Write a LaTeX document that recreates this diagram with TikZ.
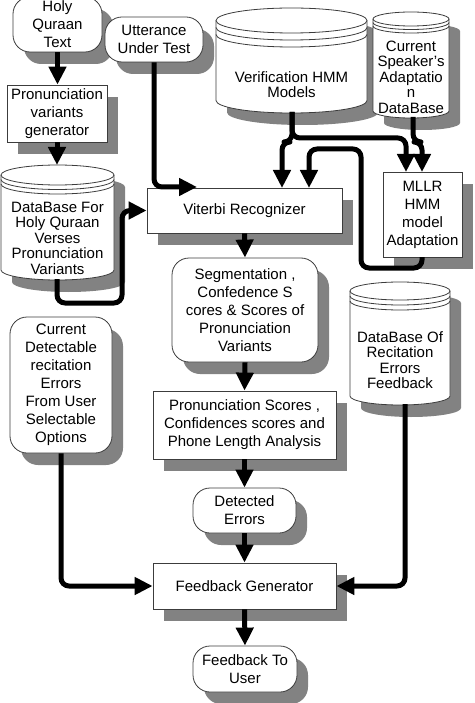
\documentclass[tikz,border=0pt]{standalone}
\usepackage{fontspec}
\setmainfont{Liberation Sans}
\usetikzlibrary{arrows.meta,shadows,calc}
\definecolor{shadowc}{RGB}{130,130,130}
\definecolor{edgec}{RGB}{60,60,60}
\tikzset{
  base/.style={draw=edgec, line width=0.8pt, fill=white, align=center, inner sep=0pt,
    font=\fontsize{15}{18}\selectfont,
    drop shadow={shadow xshift=11pt, shadow yshift=-12pt, fill=shadowc, opacity=1, draw=none}},
  sbox/.style={base, rectangle},
  rbox/.style={base, rectangle, rounded corners=17pt},
  cyltext/.style={align=center, inner sep=0pt, font=\fontsize{15}{15.5}\selectfont},
  cylline/.style={draw=edgec, line width=0.8pt},
  conn/.style={line width=5pt, line join=round, rounded corners=8pt, -{Triangle[length=18pt,width=17pt]}},
}
\newcommand{\mycyl}[6]{%
  \pgfmathsetmacro{\cL}{#1}\pgfmathsetmacro{\cR}{#2}%
  \pgfmathsetmacro{\cRX}{(#2-#1)/2}%
  \pgfmathsetmacro{\cYT}{-(#3+#5)}\pgfmathsetmacro{\cYB}{-(#4-#5)}%
  \fill[shadowc, shift={(11pt,-12pt)}] (\cL,\cYT) -- (\cL,\cYB)
     arc[start angle=180,end angle=360,x radius=\cRX,y radius=#5] -- (\cR,\cYT)
     arc[start angle=0,end angle=180,x radius=\cRX,y radius=#5] -- cycle;
  \draw[cylline, fill=white] (\cL,\cYT) -- (\cL,\cYB)
     arc[start angle=180,end angle=360,x radius=\cRX,y radius=#5] -- (\cR,\cYT)
     arc[start angle=0,end angle=180,x radius=\cRX,y radius=#5] -- cycle;
  \draw[cylline] (\cL,\cYT) arc[start angle=180,end angle=360,x radius=\cRX,y radius=#5];
  \draw[cylline] (\cL,\cYT-#6) arc[start angle=180,end angle=360,x radius=\cRX,y radius=#5];
  \draw[cylline] (\cL,\cYT-2*#6) arc[start angle=180,end angle=360,x radius=\cRX,y radius=#5];
}
\begin{document}
\begin{tikzpicture}[x=1pt,y=1pt]
\useasboundingbox (0,0) rectangle (474,-703);

% cylinders
\mycyl{216}{367}{8}{113}{12.5}{7}
\node[cyltext] (vhmm) at (291.5,-84.5) {Verification HMM\\Models};
\mycyl{373}{449}{12}{118}{7}{3.5}
\node[cyltext] (csad) at (411,-77) {Current\\Speaker's\\Adaptatio\\n\\DataBase};
\mycyl{1}{114}{165}{280}{10}{4.5}
\node[cyltext] (dbfor) at (57.5,-238) {DataBase For\\Holy Quraan\\Verses\\Pronunciation\\Variants};
\mycyl{350}{450}{282}{405}{9}{5}
\node[cyltext] (dbof) at (400,-360) {DataBase Of\\Recitation\\Errors\\Feedback};

% boxes
\node[rbox, minimum width=89pt, minimum height=55pt] (hqt) at (57.5,-24.5) {Holy\\Quraan\\Text};
\node[rbox, minimum width=98pt, minimum height=45pt] (uut) at (154,-39.5) {Utterance\\Under Test};
\node[sbox, minimum width=100pt, minimum height=57pt] (pvg) at (57,-113.5) {Pronunciation\\variants\\generator};
\node[sbox, minimum width=195pt, minimum height=45pt] (vit) at (244.5,-210.5) {Viterbi Recognizer};
\node[sbox, minimum width=79pt, minimum height=85pt] (mllr) at (422.5,-214.5) {MLLR\\HMM\\model\\Adaptation};
\node[rbox, minimum width=146pt, minimum height=104pt] (seg) at (245,-310) {Segmentation ,\\Confedence S\\cores \& Scores of\\Pronunciation\\Variants};
\node[rbox, minimum width=102pt, minimum height=136pt] (cde) at (61,-385) {Current\\Detectable\\recitation\\Errors\\From User\\Selectable\\Options};
\node[sbox, minimum width=183pt, minimum height=68pt] (ps) at (244.5,-425) {Pronunciation Scores ,\\Confidences scores and\\Phone Length Analysis};
\node[rbox, minimum width=103pt, minimum height=45pt] (de) at (244.5,-510.5) {Detected\\Errors};
\node[sbox, minimum width=183pt, minimum height=46pt] (fg) at (244.5,-586) {Feedback Generator};
\node[rbox, minimum width=104pt, minimum height=46pt] (ftu) at (245,-669) {Feedback To\\User};

% connector end points
\coordinate (vhmmB) at (292,-112);
\coordinate (csadB) at (413,-117);
\coordinate (dbforB) at (57,-279);
\coordinate (dbforT) at (57,-165);
\coordinate (dbofB) at (405,-404);
\coordinate (vtU) at (197,-187);
\coordinate (vtA) at (282,-188);
\coordinate (vtB) at (309,-188);
\coordinate (mlA) at (406,-172);
\coordinate (mlB) at (422,-172);
\coordinate (mlC) at (422,-257);

% connectors
\draw[conn] (hqt.south) -- (hqt.south |- pvg.north);
\draw[conn] (pvg.south) -- (dbforT);
\draw[conn] (uut.south) -- (154,-187) -- (vtU);
\draw[conn] (dbforB) -- (57,-303) -- (122,-303) -- (122,-210.5) -- (vit.west);
\draw[conn] (vhmmB) -- (292,-142) -- (282,-142) -- (vtA);
\draw[conn] (vhmmB) -- (292,-138) -- (406,-138) -- (mlA);
\draw[conn] (csadB) -- (413,-142) -- (422,-142) -- (mlB);
\draw[conn] (mlC) -- (422,-268) -- (361,-268) -- (361,-149) -- (309,-149) -- (vtB);
\draw[conn] (vit.south) -- (seg.north);
\draw[conn] (seg.south) -- (ps.north);
\draw[conn] (ps.south) -- (de.north);
\draw[conn] (de.south) -- (fg.north);
\draw[conn] (cde.south) -- (61,-586) -- (fg.west);
\draw[conn] (dbofB) -- (405,-586) -- (fg.east);
\draw[conn] (fg.south) -- (ftu.north);
\end{tikzpicture}
\end{document}
